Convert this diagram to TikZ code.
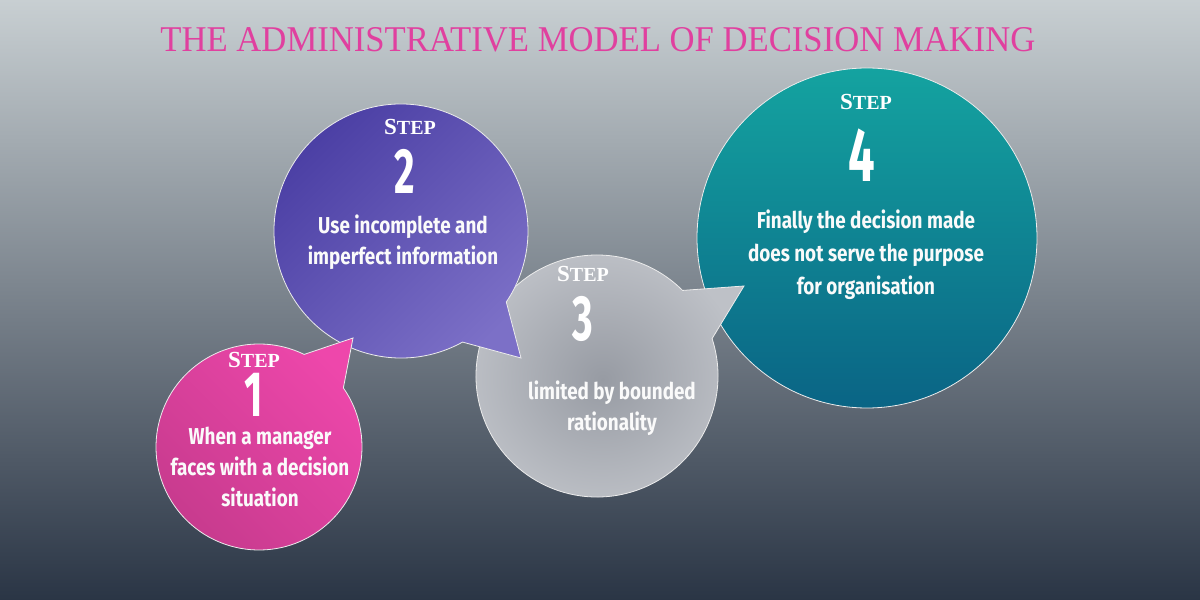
\documentclass[tikz,border=0pt]{standalone}
\usepackage{fontspec}
\usepackage{graphicx}
\newfontfamily\bodyfont[FakeStretch=0.82]{Fira Sans}
\newfontfamily\numfont[FakeStretch=0.62]{Fira Sans}
\newfontfamily\titlefont{Liberation Serif}
\usetikzlibrary{calc}
\definecolor{bgtop}{HTML}{C8CFD2}
\definecolor{bgmid}{HTML}{8E949A}
\definecolor{bgbot}{HTML}{2A3545}
\definecolor{titlepink}{HTML}{E0409F}
\definecolor{pinkA}{HTML}{EE47AB}
\definecolor{pinkB}{HTML}{C53A8C}
\definecolor{purpA}{HTML}{483CA2}
\definecolor{purpB}{HTML}{7C70C7}
\definecolor{greyA}{HTML}{979BA3}
\definecolor{greyB}{HTML}{BEC1C7}
\definecolor{tealA}{HTML}{14A3A0}
\definecolor{tealB}{HTML}{0A6485}
\newcommand{\stepword}{{\titlefont\bfseries\fontsize{23}{23}\selectfont S\fontsize{20}{20}\selectfont TEP}}

\begin{document}
\begin{tikzpicture}[x=1pt,y=1pt,
  bubble/.style={draw=white!85!gray,line width=0.8pt},
  steplbl/.style={text=white},
  numlbl/.style={text=white,font=\numfont\bfseries\fontsize{64}{64}\selectfont},
  txtlbl/.style={text=white!96!gray,align=center,font=\bodyfont\bfseries\fontsize{23}{31}\selectfont}]
\useasboundingbox (0,0) rectangle (1200,600);
\shade[top color=bgtop,middle color=bgmid,bottom color=bgbot](0,0)rectangle(1200,600);
\node (title) at (598,560){\textcolor{titlepink}{\resizebox{875pt}{24pt}{\titlefont THE ADMINISTRATIVE MODEL OF DECISION MAKING}}};
% centres and tips of the bubbles
\coordinate (c1) at (259,153);
\coordinate (c2) at (401,369);
\coordinate (c3) at (597,224);
\coordinate (c4) at (867,362);
\coordinate (t1) at (353,262);
\coordinate (t2) at (521,242);
\coordinate (t3) at (744,314);
% step 4
\shadedraw[bubble,top color=tealA,bottom color=tealB](c4)circle[radius=170];
% step 3
\shadedraw[bubble,inner color=greyA,outer color=greyB]
($(c3)+(45:121)$)--(t3)--($(c3)+(18:121)$)arc[start angle=18,end angle=-315,radius=121]--cycle;
% step 2
\shadedraw[bubble,top color=purpA,bottom color=purpB,shading angle=45]
($(c2)+(-34:127)$)--(t2)--($(c2)+(-61:127)$)arc[start angle=-61,end angle=-394,radius=127]--cycle;
% step 1
\shadedraw[bubble,top color=pinkA,bottom color=pinkB,shading angle=-45]
($(c1)+(64:103)$)--(t1)--($(c1)+(35:103)$)arc[start angle=35,end angle=-296,radius=103]--cycle;
\node[steplbl] (s1) at (254,240){\stepword};
\node[numlbl] (n1) at (254,205){1};
\node[txtlbl] (x1) at (260,133){When a manager\\faces with a decision\\situation};
\node[steplbl] (s2) at (410,473){\stepword};
\node[numlbl] (n2) at (405,429){2};
\node[txtlbl] (x2) at (403,358){Use incomplete and\\imperfect information};
\node[steplbl] (s3) at (583,326){\stepword};
\node[numlbl] (n3) at (583,281){3};
\node[txtlbl] (x3) at (612,192){limited by bounded\\rationality};
\node[steplbl] (s4) at (866,498){\stepword};
\node[numlbl,font=\numfont\bfseries\fontsize{76}{76}\selectfont] (n4) at (862,445){4};
\node[txtlbl,font=\bodyfont\bfseries\fontsize{23}{33}\selectfont] (x4) at (866,345){Finally the decision made\\does not serve the purpose\\for organisation};
\end{tikzpicture}
\end{document}
